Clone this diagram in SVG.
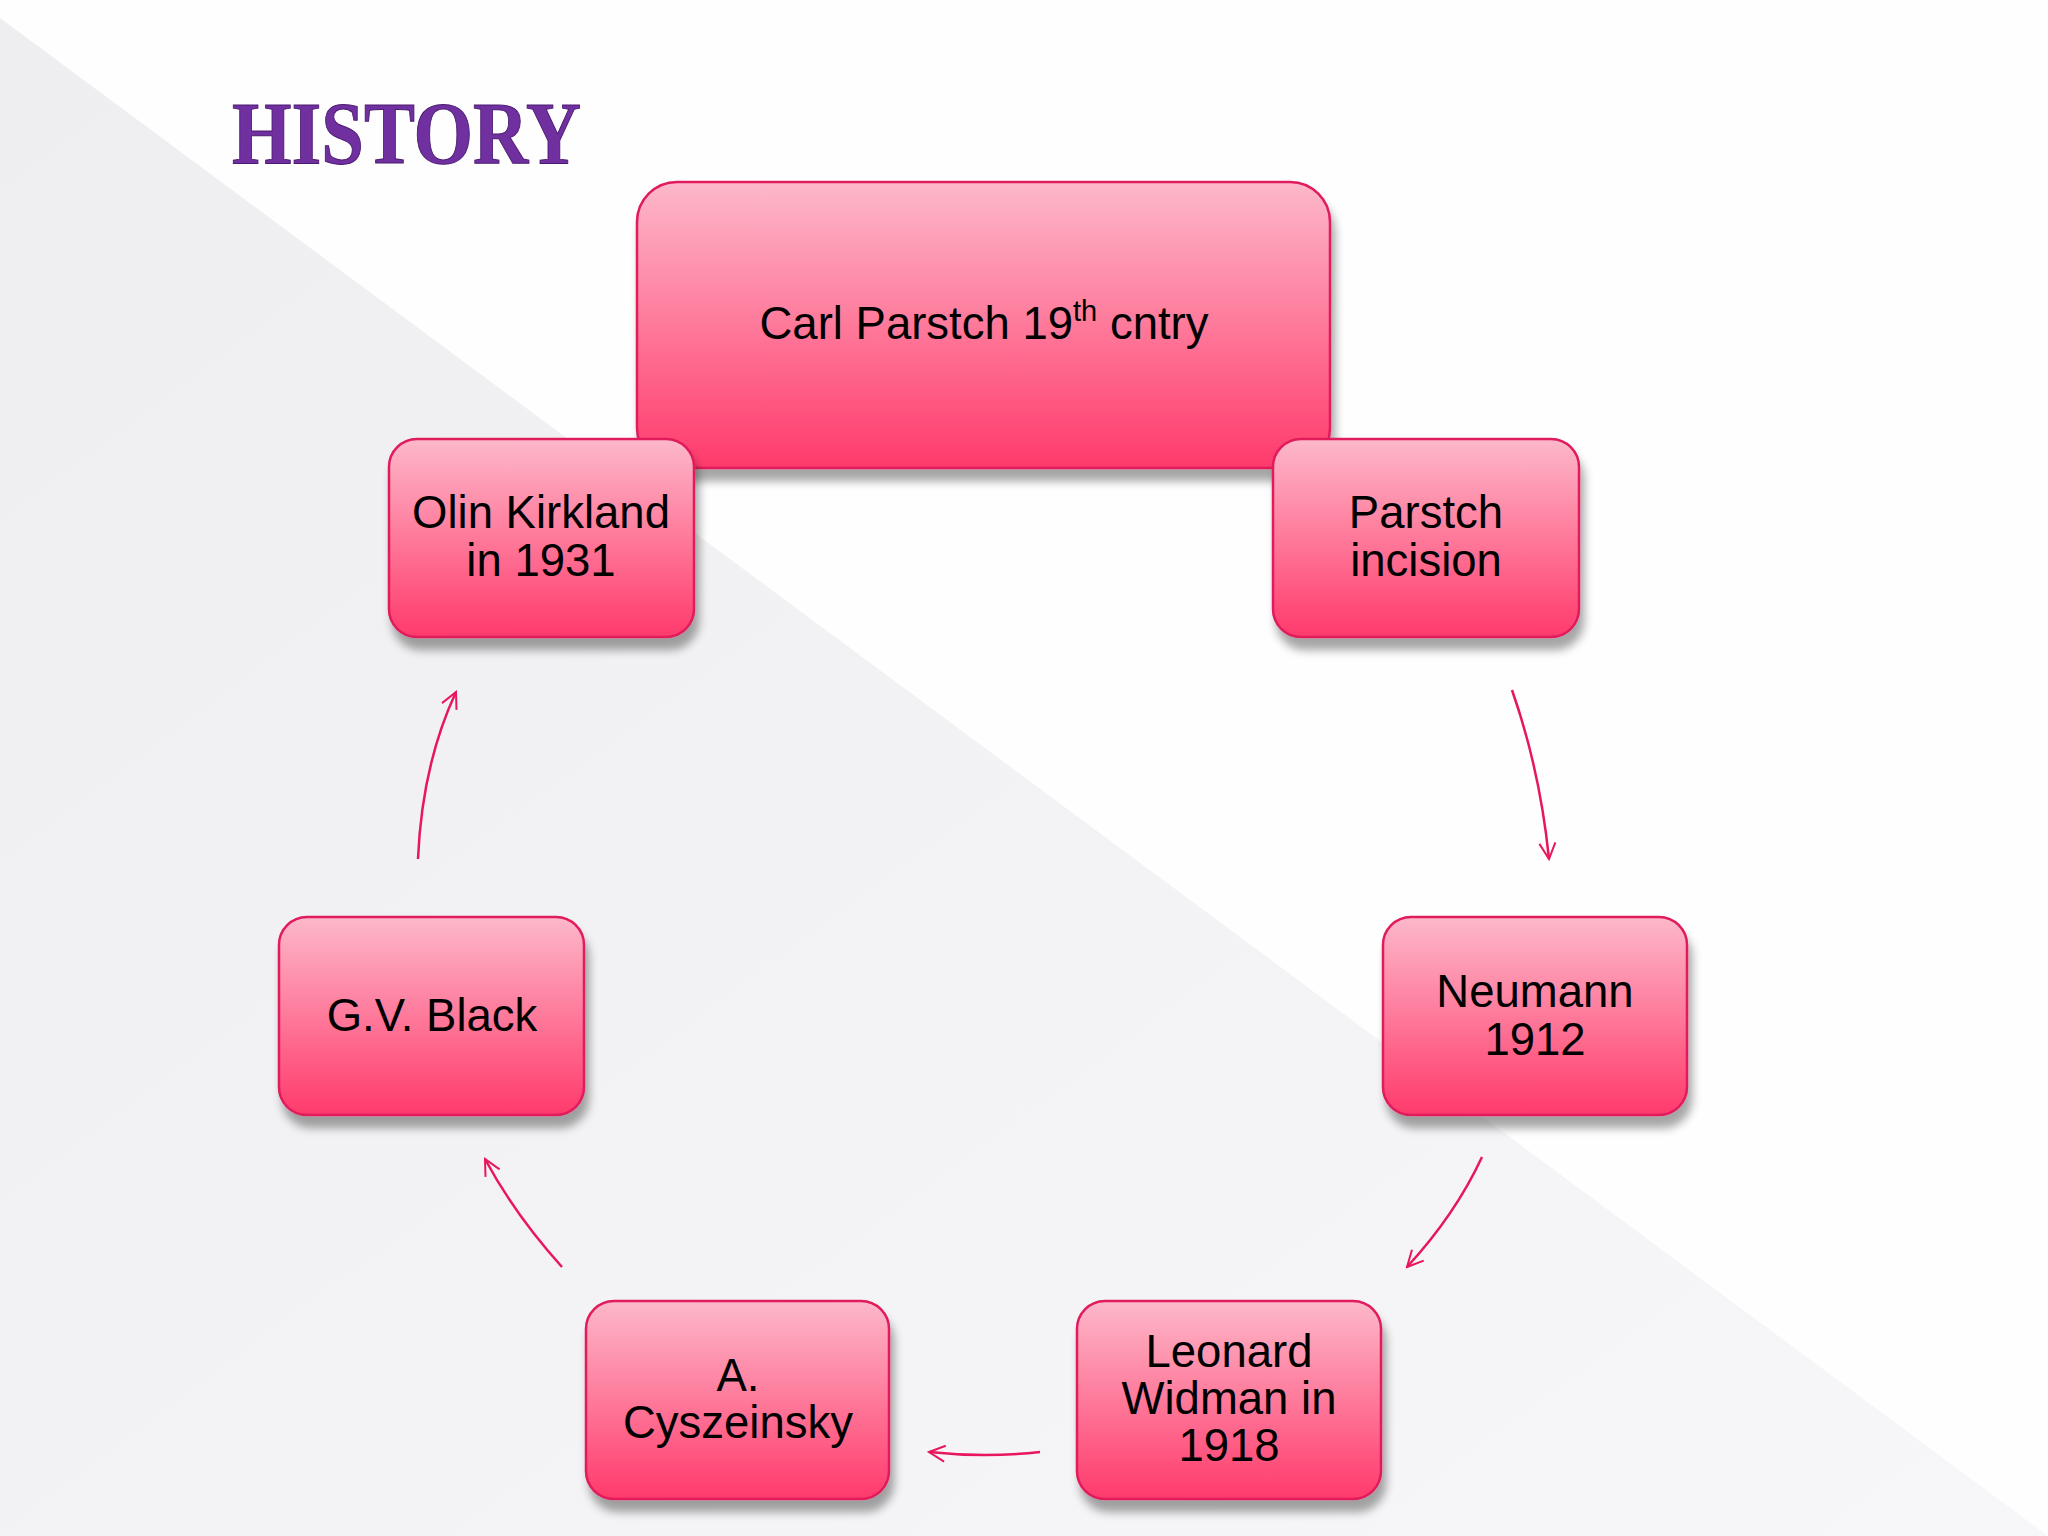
<svg xmlns="http://www.w3.org/2000/svg" width="2048" height="1536" viewBox="0 0 2048 1536">
<defs>
<linearGradient id="g" x1="0" y1="0" x2="0" y2="1"><stop offset="0" stop-color="#fdb8ca"/><stop offset="1" stop-color="#ff3a6b"/></linearGradient>
<linearGradient id="bg" x1="0" y1="0" x2="1" y2="1"><stop offset="0" stop-color="#eeedef"/><stop offset="1" stop-color="#f7f6f8"/></linearGradient>
<filter id="sh" x="-10%" y="-10%" width="120%" height="140%"><feGaussianBlur in="SourceAlpha" stdDeviation="5"/><feOffset dx="4" dy="12"/><feComponentTransfer><feFuncA type="linear" slope="0.35"/></feComponentTransfer><feMerge><feMergeNode/><feMergeNode in="SourceGraphic"/></feMerge></filter>
<marker id="a" viewBox="0 0 20 20" refX="18" refY="10" markerWidth="20" markerHeight="20" markerUnits="userSpaceOnUse" orient="auto"><path d="M2,2 L18,10 L2,18" fill="none" stroke="#e8175d" stroke-width="2"/></marker>
</defs>
<style>
.n rect{fill:url(#g);stroke:#e01a5c;stroke-width:2.5;filter:url(#sh)}
.n text{font-family:"Liberation Sans",Arial,sans-serif;font-size:45.5px;fill:#000;text-anchor:middle}
.c path{fill:none;stroke:#e8175d;stroke-width:2.5;marker-end:url(#a)}
</style>
<rect width="2048" height="1536" fill="#fefefe"/>
<polygon points="0,18 2048,1536 0,1536" fill="url(#bg)"/>
<text x="232" y="163" font-family="Liberation Serif,serif" font-weight="bold" font-size="88" fill="#7030a0" textLength="349" lengthAdjust="spacingAndGlyphs" stroke="#4a1a70" stroke-width="1">HISTORY</text>
<g id="n1" class="n"><rect x="637" y="182" width="693" height="286" rx="40"/><text x="984" y="339">Carl Parstch 19<tspan font-size="29" dy="-18">th</tspan><tspan dy="18"> cntry</tspan></text></g>
<g id="n2" class="n"><rect x="1273" y="439" width="306" height="198" rx="28"/><text x="1426" y="528">Parstch</text><text x="1426" y="576">incision</text></g>
<g id="n3" class="n"><rect x="1383" y="917" width="304" height="198" rx="28"/><text x="1535" y="1007">Neumann</text><text x="1535" y="1055">1912</text></g>
<g id="n4" class="n"><rect x="1077" y="1301" width="304" height="198" rx="28"/><text x="1229" y="1367">Leonard</text><text x="1229" y="1414">Widman in</text><text x="1229" y="1461">1918</text></g>
<g id="n5" class="n"><rect x="586" y="1301" width="303" height="198" rx="28"/><text x="738" y="1391">A.</text><text x="738" y="1438">Cyszeinsky</text></g>
<g id="n6" class="n"><rect x="279" y="917" width="305" height="198" rx="28"/><text x="432" y="1031">G.V. Black</text></g>
<g id="n7" class="n"><rect x="389" y="439" width="305" height="198" rx="28"/><text x="541" y="528">Olin Kirkland</text><text x="541" y="576">in 1931</text></g>
<g id="connectors" class="c">
<path d="M1512,690 Q1540,770 1549,859"/>
<path d="M1482,1157 Q1455,1215 1407,1267"/>
<path d="M1040,1452 Q985,1458 929,1452"/>
<path d="M562,1267 Q515,1215 485,1159"/>
<path d="M418,859 Q422,765 456,692"/>
</g>
</svg>
